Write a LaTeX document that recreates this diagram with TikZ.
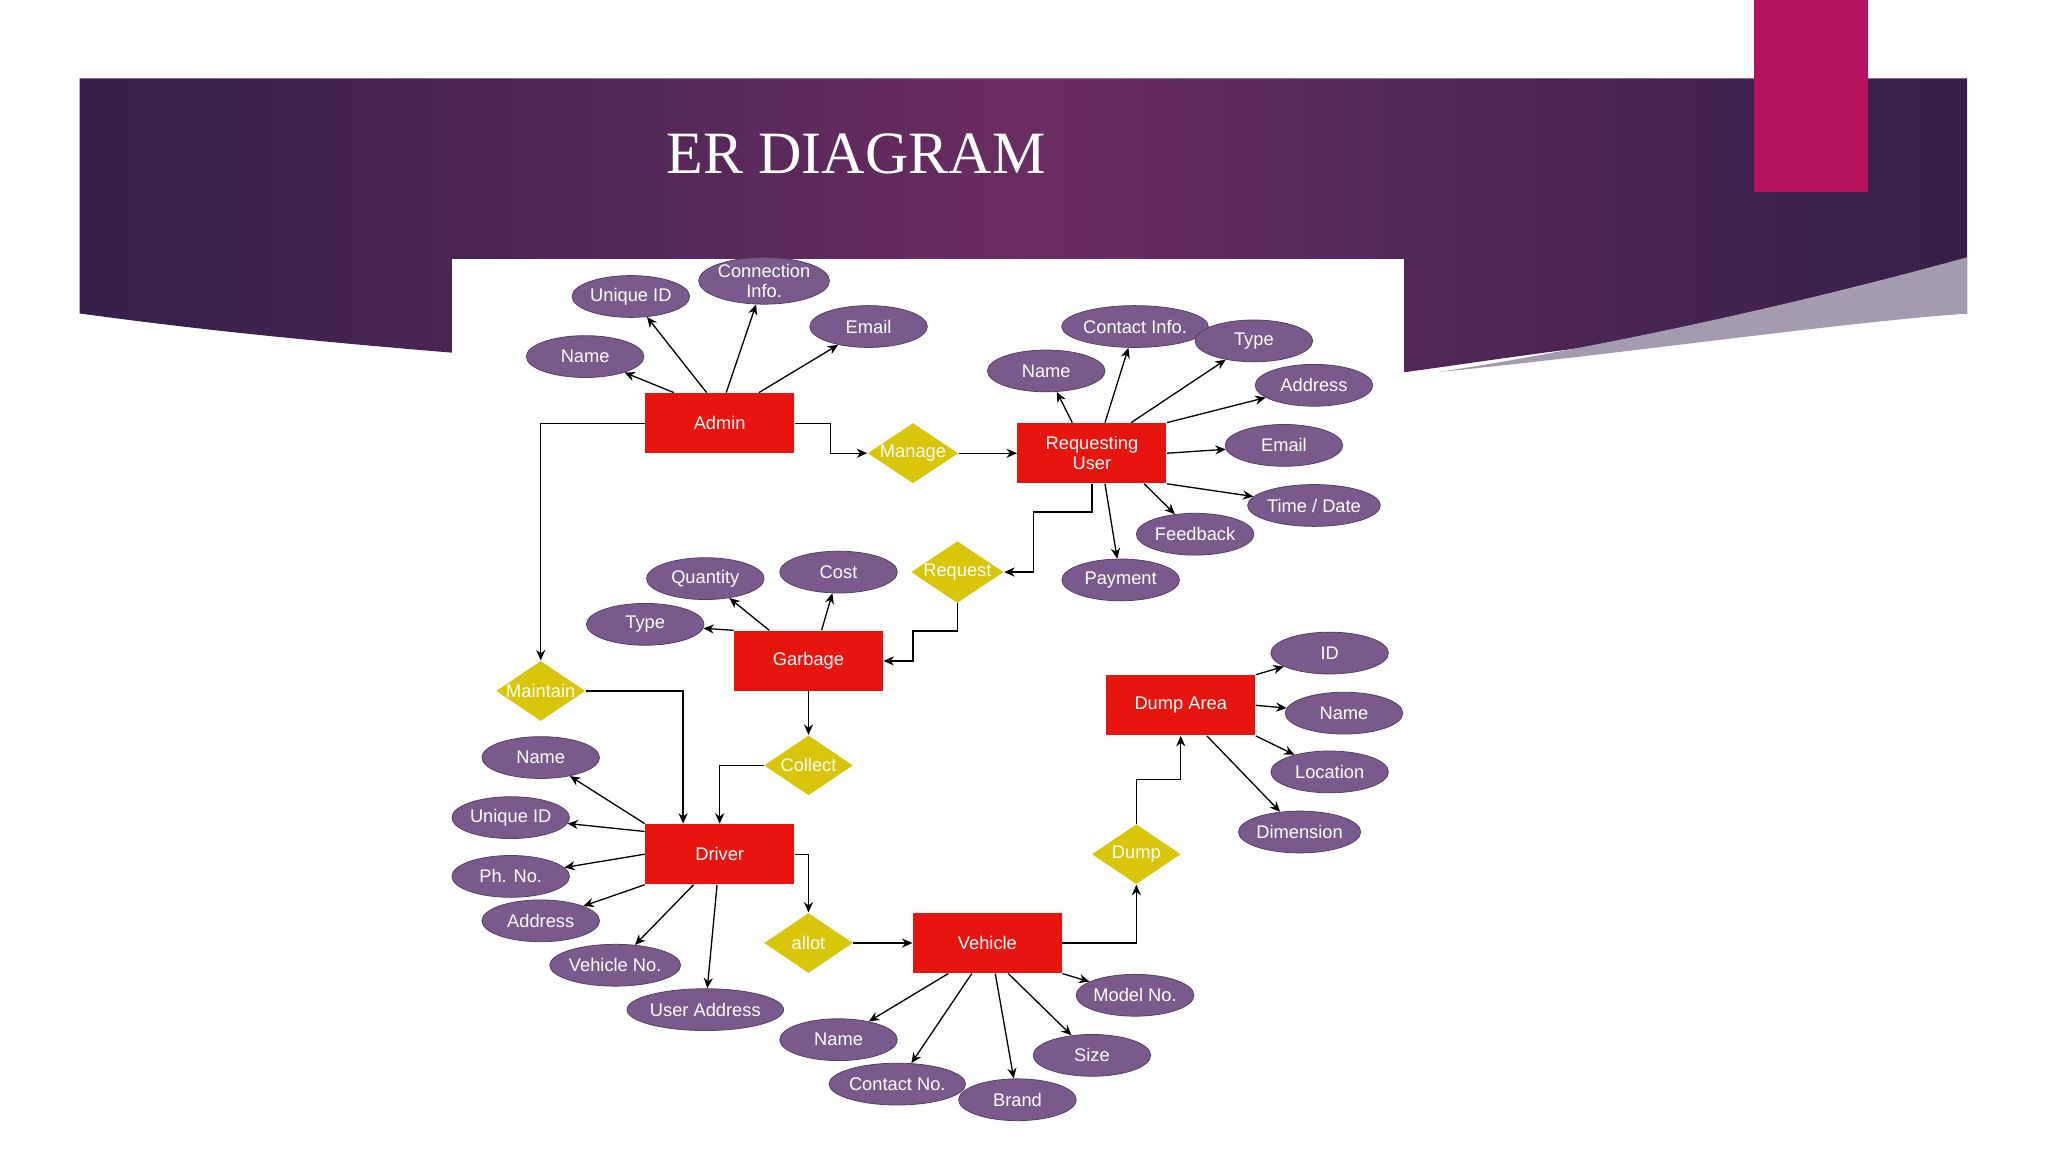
\documentclass[tikz,border=0pt]{standalone}
\usepackage{fontspec}
\setmainfont{Liberation Sans}
\newfontfamily\titlefont{Liberation Serif}
\usetikzlibrary{shapes.geometric,arrows.meta}
\definecolor{ent}{HTML}{E8150F}
\definecolor{rel}{HTML}{D9C50A}
\definecolor{att}{HTML}{7A5A8C}
\definecolor{bgA}{HTML}{35204A}
\definecolor{bgB}{HTML}{6A2C62}
\definecolor{pinkbar}{HTML}{B5135F}
\begin{document}
\begin{tikzpicture}[x=0.5pt,y=-0.5pt,
  every node/.style={font=\fontsize{7}{7.5}\selectfont,text=white,inner sep=0pt,align=center},
  ent/.style={rectangle,fill=ent,minimum width=57pt,minimum height=23pt},
  rel/.style={diamond,fill=rel,minimum width=34pt,minimum height=23pt,aspect=1.5},
  att/.style={ellipse,fill=att,draw=att!70!black,line width=0.3pt,minimum width=45pt,minimum height=16pt},
  con/.style={-{Stealth[length=4pt,width=3.5pt]},line width=0.5pt,black}]
\useasboundingbox (0,0) rectangle (1568,882);
\fill[white] (0,0) rectangle (1568,882);
% banner
\shade[left color=bgA,right color=bgA,middle color=bgB]
  (61,60) -- (1506,60) -- (1506,240) .. controls (1300,250) and (1150,275) .. (1075,285) -- (346,270)
  .. controls (200,258) and (120,248) .. (61,240) -- cycle;
\fill[white!55!bgA] (1506,197) .. controls (1350,240) and (1200,270) .. (1100,285) .. controls (1250,270) and (1400,248) .. (1506,240) -- cycle;
\fill[pinkbar] (1343,0) rectangle (1430,147);
\node[anchor=base west,font=\titlefont\fontsize{23}{23}\selectfont] (title) at (510,133) {ER DIAGRAM};
\fill[white] (346,198) rectangle (1075,882);
% entities
\node[ent] (admin) at (551,324) {Admin};
\node[ent] (ru) at (836,347) {Requesting\\User};
\node[ent] (garb) at (619,506) {Garbage};
\node[ent] (drv) at (551,654) {Driver};
\node[ent] (veh) at (756,722) {Vehicle};
\node[ent] (dump) at (904,540) {Dump Area};
% relations
\node[rel] (manage) at (699,347) {Manage};
\node[rel] (request) at (733,438) {Request};
\node[rel] (maintain) at (414,529) {Maintain};
\node[rel] (collect) at (619,586) {Collect};
\node[rel] (allot) at (619,722) {allot};
\node[rel] (dumpr) at (870,654) {Dump};
% attributes
\node[att] (a1) at (448,273) {Name};
\node[att] (a2) at (483,227) {Unique ID};
\node[att] (a3) at (585,215) {Connection\\Info.};
\node[att] (a4) at (665,250) {Email};
\node[att] (r1) at (801,284) {Name};
\node[att] (r2) at (869,250) {Contact Info.};
\node[att] (r3) at (960,261) {Type};
\node[att] (r4) at (1006,295) {Address};
\node[att] (r5) at (983,341) {Email};
\node[att] (r6) at (1006,387) {Time / Date};
\node[att] (r7) at (915,409) {Feedback};
\node[att] (r8) at (858,444) {Payment};
\node[att] (g1) at (540,443) {Quantity};
\node[att] (g2) at (642,438) {Cost};
\node[att] (g3) at (494,478) {Type};
\node[att] (d1) at (414,580) {Name};
\node[att] (d2) at (391,626) {Unique ID};
\node[att] (d3) at (391,671) {Ph. No.};
\node[att] (d4) at (414,705) {Address};
\node[att] (d5) at (471,739) {Vehicle No.};
\node[att] (d6) at (540,773) {User Address};
\node[att] (v1) at (642,796) {Name};
\node[att] (v2) at (687,830) {Contact No.};
\node[att] (v3) at (779,842) {Brand};
\node[att] (v4) at (836,808) {Size};
\node[att] (v5) at (869,762) {Model No.};
\node[att] (p1) at (1018,500) {ID};
\node[att] (p2) at (1029,546) {Name};
\node[att] (p3) at (1018,591) {Location};
\node[att] (p4) at (995,637) {Dimension};
% attribute connectors
\foreach \s/\a/\dx in {admin/a1/-35,admin/a2/-10,admin/a3/5,admin/a4/30}
  \draw[con] ([xshift=\dx*0.5pt]admin.north) -- (\a);
\foreach \a/\dx in {r1/-15,r2/10,r3/30}
  \draw[con] ([xshift=\dx*0.5pt]ru.north) -- (\a);
\draw[con] (ru.north east) -- (r4);
\draw[con] (ru.east) -- (r5);
\draw[con] (ru.south east) -- (r6);
\draw[con] ([xshift=20pt]ru.south) -- (r7);
\draw[con] ([xshift=5pt]ru.south) -- (r8);
\draw[con] ([xshift=-15pt]garb.north) -- (g1);
\draw[con] ([xshift=5pt]garb.north) -- (g2);
\draw[con] (garb.north west) -- (g3);
\draw[con] (drv.north west) -- (d1);
\draw[con] ([yshift=-3pt]drv.north west) -- (d2);
\draw[con] (drv.west) -- (d3);
\draw[con] (drv.south west) -- (d4);
\draw[con] ([xshift=-10pt]drv.south) -- (d5);
\draw[con] ([xshift=-1pt]drv.south) -- (d6);
\draw[con] ([xshift=-15pt]veh.south) -- (v1);
\draw[con] ([xshift=-6pt]veh.south) -- (v2);
\draw[con] ([xshift=3pt]veh.south) -- (v3);
\draw[con] ([xshift=8pt]veh.south) -- (v4);
\draw[con] (veh.south east) -- (v5);
\draw[con] (dump.north east) -- (p1);
\draw[con] (dump.east) -- (p2);
\draw[con] (dump.south east) -- (p3);
\draw[con] ([xshift=10pt]dump.south) -- (p4);
% relationship connectors
\draw[con] (admin.east) -- (636,324) |- (manage.west);
\draw[con] (manage.east) -- (ru.west);
\draw[con] (ru.south) -- (836,392) -| (791,392) |- (request.east);
\draw[con] (request.south) -- (733,483) -| (699,483) |- (garb.east);
\draw[con] (admin.west) -| (maintain.north);
\draw[con] (maintain.east) -| ([xshift=-14pt]drv.north);
\draw[con] (garb.south) -- (collect.north);
\draw[con] (collect.west) -| (drv.north);
\draw[con] (drv.east) -| (allot.north);
\draw[con] (allot.east) -- (veh.west);
\draw[con] (veh.east) -| (dumpr.south);
\draw[con] (dumpr.north) -- (870,597) -| (dump.south);
\end{tikzpicture}
\end{document}
